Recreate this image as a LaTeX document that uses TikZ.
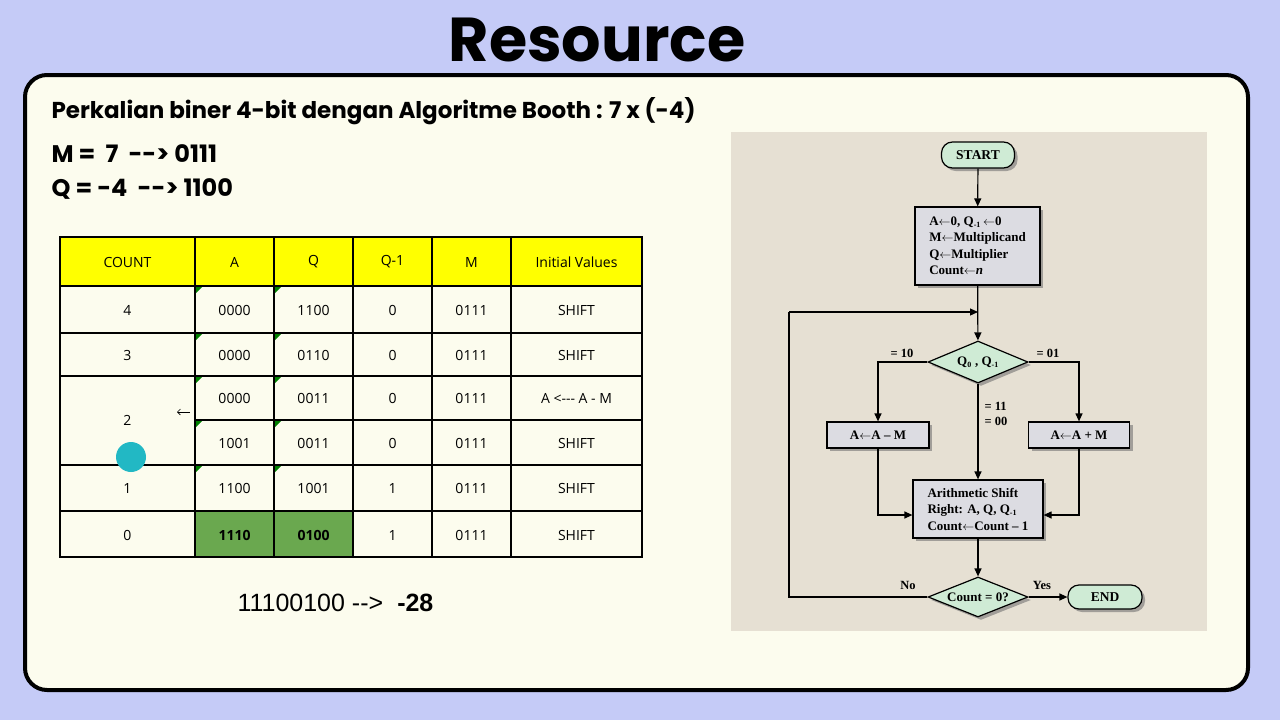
\documentclass[tikz,border=0pt]{standalone}
\usepackage{fontspec}
\setmainfont{Open Sans}
\newfontfamily\pop{Poppins}
\newfontfamily\tms{Liberation Serif}
\newfontfamily\ars{Liberation Sans}
\usetikzlibrary{shapes.geometric,shadows,arrows.meta}
\newcommand{\fsz}[1]{\fontsize{#1}{#1}\selectfont}
\newcommand{\sbm}[1]{\textsubscript{\fsz{8}#1}}
\tikzset{
 cell/.style={font=\fsz{14}, anchor=center, inner sep=0pt},
 fbox/.style={draw=black, line width=1.2pt, fill=boxgray, font=\tms\bfseries\fontsize{13}{16.5}\selectfont, drop shadow={shadow xshift=3pt,shadow yshift=-3pt,fill=black!55,opacity=0.6}},
 term/.style={draw=black, line width=1.2pt, fill=termgreen, rounded corners=11pt, font=\tms\bfseries\fsz{13.5}, minimum width=73pt, minimum height=26pt, drop shadow={shadow xshift=3pt,shadow yshift=-3pt,fill=black!55,opacity=0.6}},
 dia/.style={diamond, aspect=2.4, draw=black, line width=1.2pt, fill=termgreen, font=\tms\bfseries\fsz{13}, inner sep=1pt, drop shadow={shadow xshift=3pt,shadow yshift=-3pt,fill=black!55,opacity=0.6}},
 flow/.style={line width=1.2pt, -{Triangle[length=8pt,width=7pt]}},
 lbl/.style={font=\tms\bfseries\fontsize{12.5}{15}\selectfont, inner sep=1pt},
}
\definecolor{bg}{HTML}{C5CBF7}
\definecolor{panel}{HTML}{FCFCEE}
\definecolor{hdr}{HTML}{FFFF00}
\definecolor{grn}{HTML}{6AA84F}
\definecolor{beige}{HTML}{E6E0D3}
\definecolor{boxgray}{HTML}{DCDCE2}
\definecolor{termgreen}{HTML}{CFEBD5}
\definecolor{cyanc}{HTML}{22B8C4}
\begin{document}
\begin{tikzpicture}[x=1pt,y=-1pt]
\fill[bg] (0,0) rectangle (1280,720);
\useasboundingbox (0,0) rectangle (1280,720);
\draw[line width=4pt, fill=panel, rounded corners=22pt] (25,75) rectangle (1248,690);
\node[font=\pop\bfseries\fsz{62}] (title) at (597,40) {Resource};
\node[font=\pop\bfseries\fsz{23}, anchor=west] (l1) at (48,111) {Perkalian biner 4-bit dengan Algoritme Booth : 7 x (-4)};
\node[font=\pop\bfseries\fsz{24}, anchor=west] (l2) at (48,154) {M =~~7~~{-}{-}> 0111};
\node[font=\pop\bfseries\fsz{24}, anchor=west] (l3) at (48,189) {Q = -4~~{-}{-}> 1100};
% table
\fill[hdr] (60,237) rectangle (642,286);
\fill[grn] (195,511) rectangle (353,557);
\foreach \x in {195,274,353,432,511} \draw[line width=1.2pt] (\x,237) -- (\x,557);
\draw[line width=1.2pt] (60,237) rectangle (642,557);
\foreach \y in {286,333,376,465,511} \draw[line width=1.2pt] (60,\y) -- (642,\y);
\draw[line width=1.2pt] (195,420) -- (642,420);
\foreach \x in {195,274} \foreach \y in {286,333,376,420,465}
  \fill[green!50!black] (\x+1,\y+1) -- (\x+7,\y+1) -- (\x+1,\y+7) -- cycle;
\foreach \t [count=\i] in {COUNT,A,Q,Q-1,M,Initial Values}
  {\pgfmathsetmacro\cx{{127.5,234.5,313.5,392.5,471.5,576.5}[\i-1]}
   \node[cell] (h\i) at (\cx,262) {\t};}
\foreach \r/\yy/\a/\b/\c/\m/\s in {1/310/4/{0000}/1100/0/SHIFT, 2/355/3/{0000}/0110/0/SHIFT, 3/398/{}/{0000}/0011/0/{A <{-}{-}{-} A - M}, 4/443/{}/{1001}/0011/0/SHIFT, 5/488/1/{1100}/1001/1/SHIFT}
  {\node[cell] (c\r) at (127.5,\yy) {\a};
   \node[cell] (a\r) at (234.5,\yy) {\b};
   \node[cell] (q\r) at (313.5,\yy) {\c};
   \node[cell] (p\r) at (392.5,\yy) {\m};
   \node[cell] (m\r) at (471.5,\yy) {0111};
   \node[cell] (s\r) at (576.5,\yy) {\s};}
\node[cell] (c2b) at (127.5,420) {2};
\node[cell] (c6) at (127.5,535) {0};
\node[cell,font=\bfseries\fsz{14}] (a6) at (234.5,535) {1110};
\node[cell,font=\bfseries\fsz{14}] (q6) at (313.5,535) {0100};
\node[cell] (p6) at (392.5,535) {1};
\node[cell] (m6) at (471.5,535) {0111};
\node[cell] (s6) at (576.5,535) {SHIFT};
\draw[line width=0.6pt,-{Straight Barb[length=3pt]}] (190,412) -- (177,412);
\fill[cyanc] (131,457) circle (15);
\node[font=\ars\fsz{25},anchor=west] (res) at (234,603) {11100100 {-}{-}>\hspace{14pt}\textbf{-28}};
% flowchart
\fill[beige] (731,132) rectangle (1207,631);
\node[term] (start) at (978,155) {START};
\node[fbox, align=left, minimum width=125pt, minimum height=78pt, inner sep=3pt] (init) at (977.5,246) {A$\leftarrow$0, Q\sbm{-1}\,$\leftarrow$0\\M$\leftarrow$Multiplicand\\Q$\leftarrow$Multiplier\\Count$\leftarrow$\textit{n}};
\node[dia, minimum width=100pt, minimum height=42pt] (qd) at (978,362) {Q\sbm{0} , Q\sbm{-1}};
\node[fbox, minimum width=102pt, minimum height=26pt] (sub) at (878,435) {A$\leftarrow$A – M};
\node[fbox, minimum width=101pt, minimum height=26pt] (add) at (1079,435) {A$\leftarrow$A + M};
\node[fbox, align=left, minimum width=130pt, minimum height=58pt, inner sep=3pt] (shift) at (978,509) {Arithmetic Shift\\Right: A, Q, Q\sbm{-1}\\Count$\leftarrow$Count – 1};
\node[dia, minimum width=100pt, minimum height=40pt] (cd) at (978,597) {Count = 0?};
\node[term, minimum width=74pt, minimum height=24pt] (end) at (1105,597) {END};
\coordinate (j) at (978,312);
\coordinate (lb) at (789,312);
\draw[flow] (start) -- (init);
\draw[flow] (init) -- (qd);
\draw[flow] (qd.west) -| (sub.north);
\draw[flow] (qd.east) -| (add.north);
\draw[flow] (qd) -- (shift);
\draw[flow] (sub.south) |- (shift.west |- 0,515);
\draw[flow] (add.south) |- (shift.east |- 0,515);
\draw[flow] (shift) -- (cd);
\draw[flow] (cd) -- (end);
\draw[line width=1.2pt] (cd.west) -| (lb);
\draw[flow] (lb) -- (j);
\node[lbl] (l10) at (902,353) {= 10};
\node[lbl] (l01) at (1048,353) {= 01};
\node[lbl, align=left] (l11) at (996,414) {= 11\\= 00};
\node[lbl] (lno) at (908,585) {No};
\node[lbl] (lyes) at (1042,585) {Yes};
\end{tikzpicture}
\end{document}
